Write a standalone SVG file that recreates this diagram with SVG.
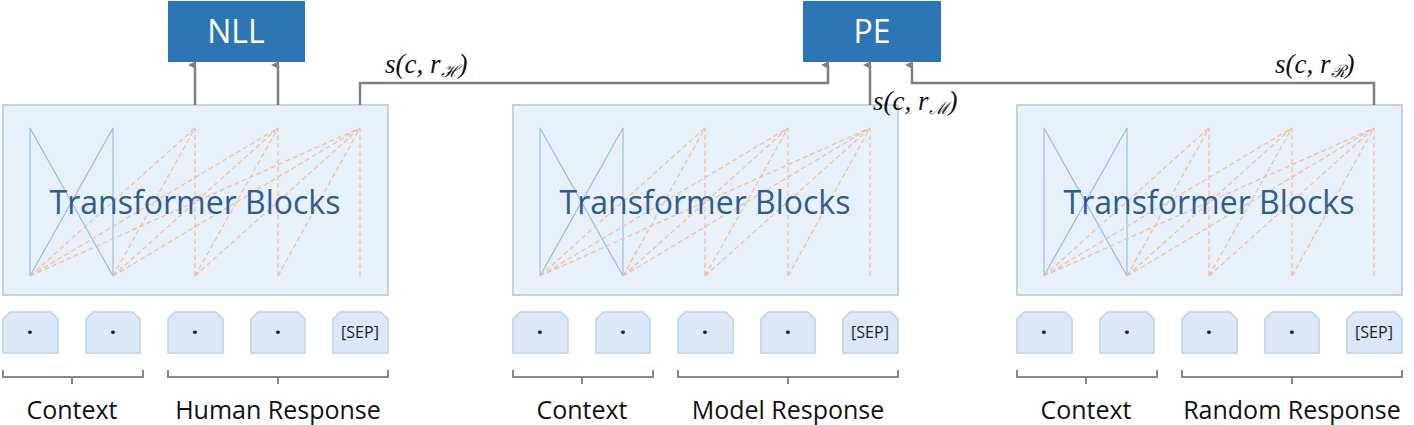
<svg xmlns="http://www.w3.org/2000/svg" width="1414" height="425" viewBox="0 0 1414 425">
<style>
.panel{fill:#e8f0f9;stroke:#bcd3ea;stroke-width:2}
.tok{fill:#dce8f5;stroke:#bcd3ea;stroke-width:1.5}
.tt{font-family:"Open Sans","Liberation Sans",sans-serif;font-size:16px;fill:#222;text-anchor:middle}
.dot{font-family:"Open Sans","Liberation Sans",sans-serif;font-size:22px;font-weight:bold;fill:#222;text-anchor:middle}
.tb{font-family:"Open Sans","Liberation Sans",sans-serif;font-size:32px;fill:#2d5d8e;text-anchor:middle}
.lbl{font-family:"Open Sans","Liberation Sans",sans-serif;font-size:25px;fill:#111;text-anchor:middle}
.blue{stroke:#9dbde0;stroke-width:1.2;fill:none}
.or{stroke:#f0bfa0;stroke-width:1.2;stroke-dasharray:5,3;fill:none}
.br{stroke:#888;stroke-width:2;fill:none}
.con{stroke:#808080;stroke-width:2.5;fill:none;marker-end:url(#a)}
.head{fill:#2e75b6}
.ht{font-family:"Open Sans","Liberation Sans",sans-serif;font-size:32px;fill:#fff;text-anchor:middle}
.m{font-family:"Liberation Serif","DejaVu Serif",serif;font-style:italic;font-size:27px;fill:#111}
</style>
<defs>
<marker id="a" markerWidth="8" markerHeight="8" refX="4" refY="7" orient="auto" markerUnits="userSpaceOnUse" viewBox="0 0 8 8"><path d="M0,8 L4,0 L8,8 Z" fill="#808080"/></marker>
<g id="panel">
<rect class="panel" x="3" y="105" width="385" height="190"/>
<path class="blue" d="M30,128V276M113,128V276M30,128L113,276M113,128L30,276"/>
<path class="or" d="M30,276L195,128M30,276L278,128M30,276L360,128M113,276L195,128M113,276L278,128M113,276L360,128M195,276V128M195,276L278,128M195,276L360,128M278,276V128M278,276L360,128M360,276V128"/>
<text class="tb" x="195" y="214">Transformer Blocks</text>
<path class="tok" d="M10,312H51L58,319V353H3V319Z"/>
<path class="tok" d="M93,312H133L140,319V353H86V319Z"/>
<path class="tok" d="M175,312H216L223,319V353H168V319Z"/>
<path class="tok" d="M258,312H298L305,319V353H251V319Z"/>
<path class="tok" d="M340,312H381L388,319V353H333V319Z"/>
<text class="dot" x="30" y="340">·</text>
<text class="dot" x="113" y="340">·</text>
<text class="dot" x="195" y="340">·</text>
<text class="dot" x="278" y="340">·</text>
<text class="tt" x="360" y="338">[SEP]</text>
<path class="br" d="M3,370V377H143V370M72,377V384M168,370V377H388V370M278,377V384"/>
</g>
</defs>
<g id="panel1"><use href="#panel"/><text class="lbl" x="72" y="419">Context</text><text class="lbl" x="278" y="419">Human Response</text></g>
<g id="panel2"><use href="#panel" x="510"/><text class="lbl" x="582" y="419">Context</text><text class="lbl" x="788" y="419">Model Response</text></g>
<g id="panel3"><use href="#panel" x="1014"/><text class="lbl" x="1086" y="419">Context</text><text class="lbl" x="1292" y="419">Random Response</text></g>
<g id="NLL"><rect class="head" x="168" y="1" width="137" height="61"/><text class="ht" x="236" y="43">NLL</text></g>
<g id="PE"><rect class="head" x="803" y="1" width="138" height="61"/><text class="ht" x="872" y="43">PE</text></g>
<g id="connectors">
<path class="con" d="M195,105V65"/>
<path class="con" d="M278,105V65"/>
<path class="con" d="M360,105V83H828V65"/>
<path class="con" d="M870,105V65"/>
<path class="con" d="M1374,105V83H912V65"/>
</g>
<text class="m" x="385" y="73">s(c, r<tspan font-size="17" dy="4">ℋ</tspan><tspan dy="-4">)</tspan></text>
<text class="m" x="873" y="110">s(c, r<tspan font-size="17" dy="4">ℳ</tspan><tspan dy="-4">)</tspan></text>
<text class="m" x="1275" y="73">s(c, r<tspan font-size="17" dy="4">ℛ</tspan><tspan dy="-4">)</tspan></text>
</svg>
